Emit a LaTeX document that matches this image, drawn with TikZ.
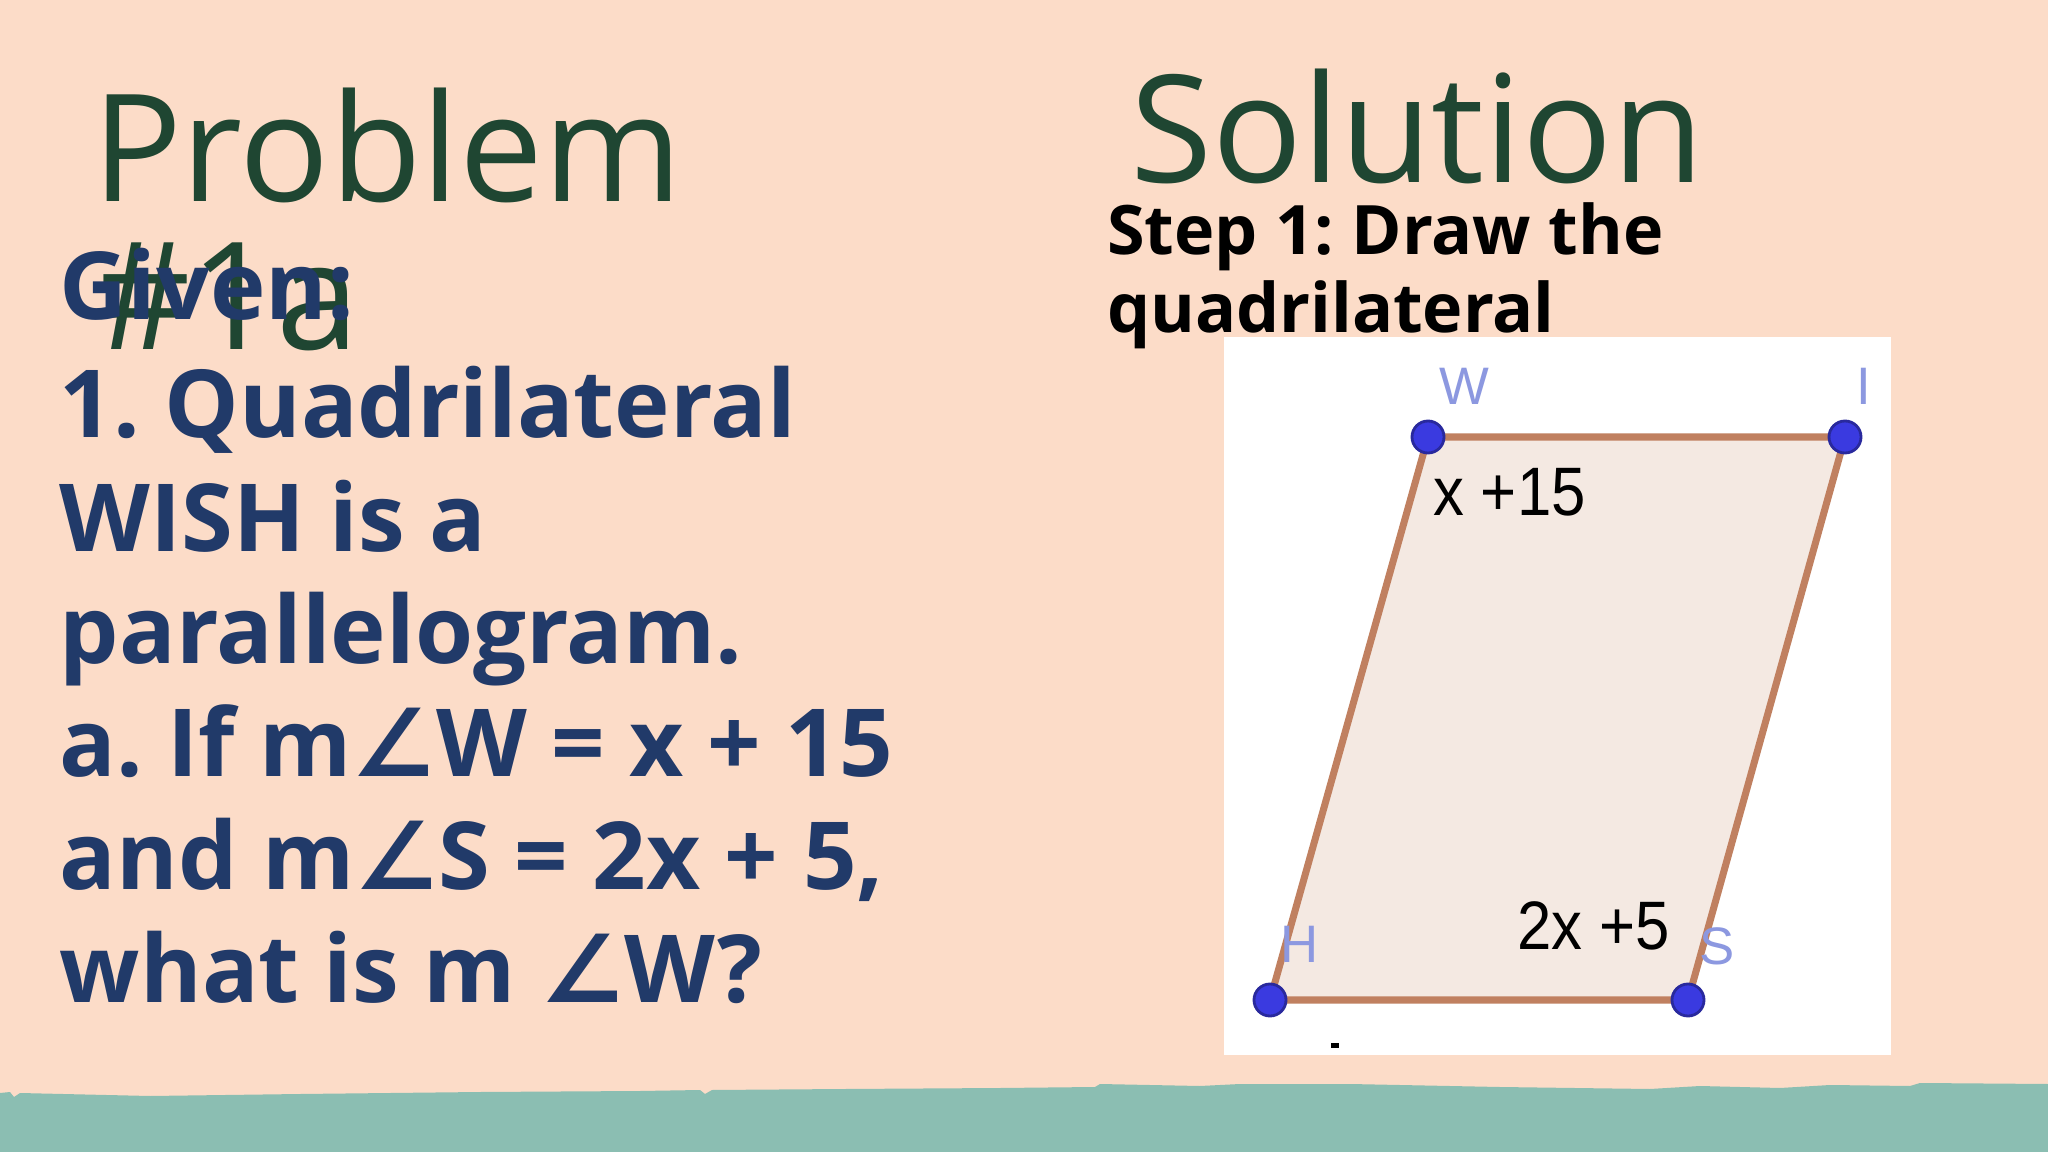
\documentclass[tikz,border=0pt]{standalone}
\usepackage{fontspec}
\setmainfont{Open Sans}
\newfontfamily\symfont{DejaVu Sans}
\newfontfamily\labfont{Liberation Sans}
\frenchspacing
\definecolor{peach}{HTML}{FCDCC8}
\definecolor{stripteal}{HTML}{8BBEB2}
\definecolor{titlegreen}{HTML}{1F4632}
\definecolor{navytext}{HTML}{213A69}
\definecolor{edgebrown}{HTML}{C08060}
\definecolor{quadfill}{HTML}{F4E9E2}
\definecolor{dotblue}{HTML}{3A3AE0}
\definecolor{labblue}{HTML}{8C98E0}
\tikzset{
  every node/.style={inner sep=0pt, outer sep=0pt},
  titletext/.style={anchor=base west, text=titlegreen, font=\fontsize{42.5}{42}\selectfont},
  steptext/.style={anchor=base west, text=black, font=\fontsize{19.4}{22}\selectfont\bfseries},
  giventext/.style={anchor=base west, text=navytext, font=\fontsize{26.7}{32}\selectfont\bfseries},
  vertexdot/.style={circle, fill=dotblue, draw=dotblue!70!black, line width=0.8pt, minimum size=0.32cm},
  vlabel/.style={text=labblue, font=\labfont\fontsize{15}{15}\selectfont},
  anglelabel/.style={text=black, font=\labfont\fontsize{19.5}{20}\selectfont},
  quadedge/.style={draw=edgebrown, line width=2pt},
}
\begin{document}
\begin{tikzpicture}[x=0.01cm, y=-0.01cm]
\useasboundingbox (0,0) rectangle (2048,1152);
\fill[peach] (0,0) rectangle (2048,1152);
% teal torn strip
\fill[stripteal] (0,1093) -- (10,1092) -- (14,1097) -- (20,1093) -- (150,1096) -- (300,1094) -- (480,1092)
  -- (640,1091) -- (700,1090) -- (705,1094) -- (712,1090) -- (845,1089) -- (1000,1088) -- (1095,1087)
  -- (1100,1084) -- (1200,1086) -- (1240,1084) -- (1350,1084) -- (1500,1087) -- (1650,1089)
  -- (1700,1086) -- (1780,1088) -- (1830,1085) -- (1910,1086) -- (1920,1083) -- (2048,1084)
  -- (2048,1152) -- (0,1152) -- cycle;

% titles
\node[titletext] (prob) at (92,202) {Problem};
\node[titletext] (num) at (94,350) {\#1a};
\node[titletext] (sol) at (1130,183) {Solution};

% step text
\node[steptext] (step1) at (1107,255) {Step 1: Draw the};
\node[steptext] (step2) at (1107,333) {quadrilateral};

% given text
\node[giventext] (g0) at (60,320) {Given:};
\node[giventext] (g1) at (60,438) {1. Quadrilateral};
\node[giventext] (g2) at (60,551) {WISH is a};
\node[giventext] (g3) at (60,663) {parallelogram.};
\node[giventext] (g4) at (60,776) {a. If m{\symfont ∠}W = x + 15};
\node[giventext] (g5) at (60,889) {and m{\symfont ∠}S = 2x + 5,};
\node[giventext] (g6) at (60,1002) {what is m {\symfont ∠}W?};

% picture box
\fill[white] (1224,337) rectangle (1891,1055);
\coordinate (W) at (1428,437);
\coordinate (I) at (1845,437);
\coordinate (S) at (1688,1000);
\coordinate (H) at (1270,1000);
\fill[quadfill] (W) -- (I) -- (S) -- (H) -- cycle;
\draw[quadedge] (W) -- (I) -- (S) -- (H) -- cycle;
\node[vertexdot] (dW) at (W) {};
\node[vertexdot] (dI) at (I) {};
\node[vertexdot] (dS) at (S) {};
\node[vertexdot] (dH) at (H) {};
\node[vlabel] (lW) at (1464,386) {W};
\node[vlabel] (lI) at (1864,386) {I};
\node[vlabel] (lH) at (1300,944) {H};
\node[vlabel] (lS) at (1717,946) {S};
\node[anglelabel, anchor=base west] (aW) at (1433,516) {\scalebox{0.9}[1]{x +15}};
\node[anglelabel, anchor=base west] (aS) at (1517,949) {\scalebox{0.9}[1]{2x +5}};
\fill[black] (1331,1043) rectangle (1339,1048);
\end{tikzpicture}
\end{document}
